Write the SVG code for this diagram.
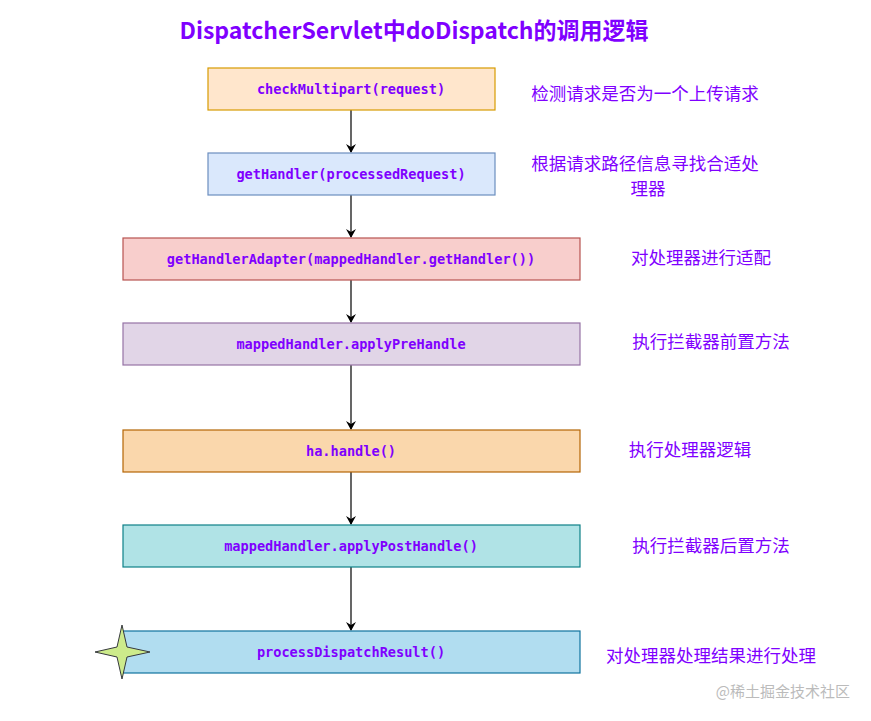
<svg xmlns="http://www.w3.org/2000/svg" width="871" height="721" viewBox="0 0 871 721">
<style>
.n{stroke-width:1.2}
.t{font-family:"DejaVu Sans Mono","Liberation Mono",monospace;font-weight:bold;font-size:13.6px;fill:#7f00ff;text-anchor:middle;dominant-baseline:central}
.l{font-family:"Noto Sans CJK SC",sans-serif;font-size:17.5px;fill:#7f00ff;text-anchor:middle}
.c{stroke:#000;stroke-width:1.2;fill:none;marker-end:url(#a)}
</style>
<defs><marker id="a" markerWidth="10" markerHeight="10" refX="8" refY="5" orient="auto" markerUnits="userSpaceOnUse"><path d="M0,0 L9,5 L0,10 L3,5 Z" fill="#000"/></marker></defs>
<rect width="871" height="721" fill="#fff"/>
<text x="414" y="39" style="font-family:'Noto Sans CJK SC',sans-serif;font-size:23px;font-weight:bold;fill:#7f00ff" text-anchor="middle">DispatcherServlet中doDispatch的调用逻辑</text>
<g id="connectors">
<path class="c" d="M351,110 V152"/><path class="c" d="M351,195 V237"/><path class="c" d="M351,280 V322"/><path class="c" d="M351,365 V429"/><path class="c" d="M351,472 V524"/><path class="c" d="M351,567 V630"/>
</g>
<g id="n1"><rect class="n" x="208" y="68" width="287" height="42" fill="#ffe6cc" stroke="#d79b00"/><text class="t" x="351" y="89">checkMultipart(request)</text></g>
<g id="n2"><rect class="n" x="208" y="153" width="287" height="42" fill="#dae8fc" stroke="#6c8ebf"/><text class="t" x="351" y="174">getHandler(processedRequest)</text></g>
<g id="n3"><rect class="n" x="123" y="238" width="457" height="42" fill="#f8cecc" stroke="#b85450"/><text class="t" x="351" y="259">getHandlerAdapter(mappedHandler.getHandler())</text></g>
<g id="n4"><rect class="n" x="123" y="323" width="457" height="42" fill="#e1d5e7" stroke="#9673a6"/><text class="t" x="351" y="344">mappedHandler.applyPreHandle</text></g>
<g id="n5"><rect class="n" x="123" y="430" width="457" height="42" fill="#fad7ac" stroke="#b46504"/><text class="t" x="351" y="451">ha.handle()</text></g>
<g id="n6"><rect class="n" x="123" y="525" width="457" height="42" fill="#b0e3e6" stroke="#0e8088"/><text class="t" x="351" y="546">mappedHandler.applyPostHandle()</text></g>
<g id="n7"><rect class="n" x="123" y="631" width="457" height="42" fill="#b1ddf0" stroke="#10739e"/><text class="t" x="351" y="652">processDispatchResult()</text></g>
<g id="star"><path d="M122,625 L127,647 L150,652 L127,657 L122,679 L117,657 L95,652 L117,647 Z" fill="#cdeb8b" stroke="#36393d" stroke-width="1"/></g>
<g id="labels">
<text class="l" x="645" y="100">检测请求是否为一个上传请求</text>
<text class="l" x="645" y="170">根据请求路径信息寻找合适处</text>
<text class="l" x="648" y="195">理器</text>
<text class="l" x="701" y="264">对处理器进行适配</text>
<text class="l" x="711" y="348">执行拦截器前置方法</text>
<text class="l" x="690" y="456">执行处理器逻辑</text>
<text class="l" x="711" y="552">执行拦截器后置方法</text>
<text class="l" x="711" y="662">对处理器处理结果进行处理</text>
</g>
<text x="850" y="697" style="font-family:'Noto Sans CJK SC',sans-serif;font-size:15px;fill:#bbb" text-anchor="end">@稀土掘金技术社区</text>
</svg>
